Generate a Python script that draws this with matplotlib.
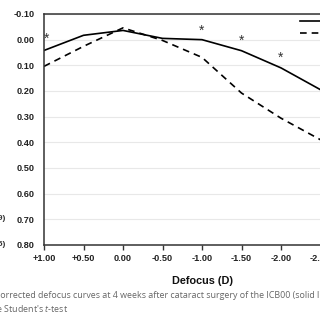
import matplotlib
matplotlib.use("Agg")
import matplotlib.pyplot as plt

defocus = [1.00, 0.50, 0.00, -0.50, -1.00, -1.50, -2.00, -2.50]
icb00 = [0.042, -0.017, -0.036, -0.005, 0.000, 0.043, 0.110, 0.195]
zcb00 = [0.104, 0.026, -0.046, 0.003, 0.069, 0.208, 0.306, 0.390]
sig_x = [0.97, -1.00, -1.50, -2.00]
sig_y = [-0.005, -0.035, 0.005, 0.072]
xticks = [1.00, 0.50, 0.00, -0.50, -1.00, -1.50, -2.00, -2.50, -3.00]
xticklabels = ["+1.00", "+0.50", "0.00", "-0.50", "-1.00", "-1.50", "-2.00", "-2.50", "-3.00"]
yticks = [-0.10, 0.00, 0.10, 0.20, 0.30, 0.40, 0.50, 0.60, 0.70, 0.80]
yticklabels = ["-0.10", "0.00", "0.10", "0.20", "0.30", "0.40", "0.50", "0.60", "0.70", "0.80"]

plt.rcParams['font.family'] = ['Liberation Sans', 'DejaVu Sans']
plt.rcParams['mathtext.fontset'] = 'custom'
plt.rcParams['mathtext.it'] = 'Open Sans:italic'
plt.rcParams['mathtext.rm'] = 'Open Sans'

fig = plt.figure(figsize=(3.2, 3.2), dpi=100)
ax = fig.add_axes([44/320, 1 - 245/320, 316/320, 231/320])

ax.plot(defocus, icb00, color='black', lw=1.2, label='ICB00')
ax.plot(defocus, zcb00, color='black', lw=1.2, ls=(0, (4, 3)), label='ZCB00')
for x, y in zip(sig_x, sig_y):
    ax.text(x, y, "*", ha='center', va='center', fontsize=10, color='#333333')

ax.set_xlim(1.0, -3.0)
ax.set_ylim(0.80, -0.10)
ax.set_xticks(xticks)
ax.set_xticklabels(xticklabels, fontsize=6.6, fontweight='bold', color='#222222')
ax.set_yticks(yticks)
ax.set_yticklabels(yticklabels, fontsize=6.6, fontweight='bold', color='#222222')
ax.tick_params(axis='y', length=0, pad=7)
ax.tick_params(axis='x', length=3.5, width=1.0, pad=3, color='#333333')
ax.grid(axis='y', color='#e8e8e8', lw=0.8)
ax.set_axisbelow(True)
for s in ax.spines.values():
    s.set_color('#333333')
    s.set_linewidth(1.1)
ax.spines['right'].set_visible(False)
ax.set_xlabel("Defocus (D)", fontsize=7.8, fontweight='bold', color='#111111', labelpad=9)

leg = ax.legend(loc='upper left', bbox_to_anchor=(300/320, 1 - 16/320),
                bbox_transform=fig.transFigure, frameon=False, fontsize=7,
                handlelength=3.2, borderpad=0, borderaxespad=0, labelspacing=0.25,
                handletextpad=0.6)

# remnants of neighbouring panel on the left
fig.text(6/320, 1 - 219/320, "(9)", ha='right', va='center', fontsize=6, fontweight='bold', color='#333333')
fig.text(6/320, 1 - 245/320, "(5)", ha='right', va='center', fontsize=6, fontweight='bold', color='#333333')

# caption
fig.text(-4/320, 1 - 295/320, "corrected defocus curves at 4 weeks after cataract surgery of the ICB00 (solid line) and ZCB00 (dashed line)",
         ha='left', va='center', fontsize=6.4, color='#666666', family='Open Sans')
fig.text(-12/320, 1 - 309/320, r"the Student's $t$-test",
         ha='left', va='center', fontsize=6.4, color='#666666', family='Open Sans')

fig.savefig("out.png", dpi=100)
